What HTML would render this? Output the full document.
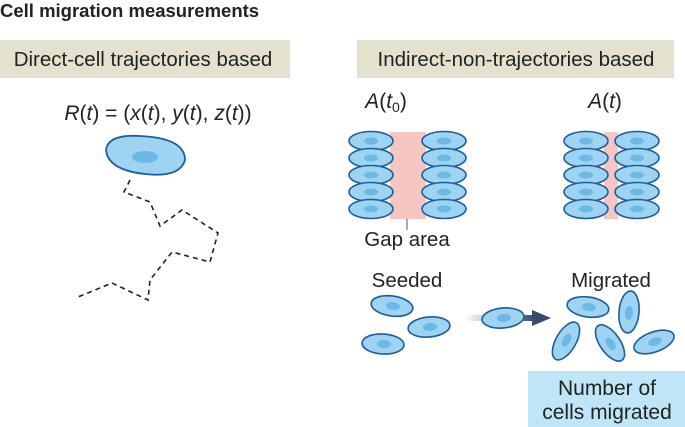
<!DOCTYPE html>
<html><head><style>body{margin:0;background:#fff}svg{display:block}text{font-family:"Liberation Sans",sans-serif;fill:#222}</style></head><body>
<svg width="685" height="427" viewBox="0 0 685 427" xmlns="http://www.w3.org/2000/svg">
<defs>
<g id="c"><ellipse cx="0" cy="0" rx="22" ry="9.5" fill="#9fd3f2" stroke="#1d5d9c" stroke-width="1.6"/><ellipse cx="0" cy="0" rx="7" ry="3.5" fill="#6cb8e6"/></g>
<g id="f"><ellipse cx="0" cy="0" rx="21" ry="10" fill="#9fd3f2" stroke="#1d5d9c" stroke-width="1.6"/><ellipse cx="1" cy="0" rx="7" ry="4" fill="#6cb8e6"/></g>
<linearGradient id="ar" x1="0" x2="1"><stop offset="0" stop-color="#3a4a6a" stop-opacity="0"/><stop offset="1" stop-color="#3a4a6a"/></linearGradient>
</defs>
<text x="0" y="17" font-size="18.5" font-weight="bold">Cell migration measurements</text>
<rect x="0" y="40" width="290" height="38" fill="#e4e2cf"/>
<text x="143" y="66" font-size="20.5" text-anchor="middle">Direct-cell trajectories based</text>
<rect x="357" y="40" width="317" height="38" fill="#e4e2cf"/>
<text x="516" y="66" font-size="20.5" text-anchor="middle">Indirect-non-trajectories based</text>
<text x="158" y="120" font-size="21" text-anchor="middle"><tspan font-style="italic">R</tspan>(<tspan font-style="italic">t</tspan>) = (<tspan font-style="italic">x</tspan>(<tspan font-style="italic">t</tspan>), <tspan font-style="italic">y</tspan>(<tspan font-style="italic">t</tspan>), <tspan font-style="italic">z</tspan>(<tspan font-style="italic">t</tspan>))</text>
<path d="M106,150 Q108,134 140,136 Q185,138 185,160 Q180,178 145,174 Q108,170 106,150Z" fill="#9fd3f2" stroke="#1d5d9c" stroke-width="1.8"/>
<ellipse cx="145" cy="157" rx="13" ry="6" fill="#6cb8e6"/>
<path d="M130,180 L124,192 L150,202 L160,226 L182,210 L218,233 L210,262 L172,252 L150,280 L148,300 L112,283 L78,297" fill="none" stroke="#222" stroke-width="1.6" stroke-dasharray="5,4"/>
<text x="386" y="108" font-size="21" text-anchor="middle"><tspan font-style="italic">A</tspan>(<tspan font-style="italic">t</tspan><tspan font-size="14" dy="4">0</tspan><tspan dy="-4">)</tspan></text>
<text x="605" y="108" font-size="21" text-anchor="middle"><tspan font-style="italic">A</tspan>(<tspan font-style="italic">t</tspan>)</text>
<rect x="390" y="132" width="36" height="87" fill="#f7c6c2"/>
<rect x="604" y="132" width="14" height="87" fill="#f7c6c2"/>
<g>
<use href="#c" x="371" y="141"/><use href="#c" x="371" y="158"/><use href="#c" x="371" y="175"/><use href="#c" x="371" y="192"/><use href="#c" x="371" y="209"/>
<use href="#c" x="444" y="141"/><use href="#c" x="444" y="158"/><use href="#c" x="444" y="175"/><use href="#c" x="444" y="192"/><use href="#c" x="444" y="209"/>
<use href="#c" x="586" y="141"/><use href="#c" x="586" y="158"/><use href="#c" x="586" y="175"/><use href="#c" x="586" y="192"/><use href="#c" x="586" y="209"/>
<use href="#c" x="637" y="141"/><use href="#c" x="637" y="158"/><use href="#c" x="637" y="175"/><use href="#c" x="637" y="192"/><use href="#c" x="637" y="209"/>
</g>
<line x1="407" y1="219" x2="407" y2="230" stroke="#555" stroke-width="1"/>
<text x="407" y="246" font-size="20.5" text-anchor="middle">Gap area</text>
<text x="407" y="287" font-size="20.5" text-anchor="middle">Seeded</text>
<text x="611" y="287" font-size="20.5" text-anchor="middle">Migrated</text>
<use href="#f" x="392" y="306" transform="rotate(8 392 306)"/>
<use href="#f" x="429" y="327" transform="rotate(-5 429 327)"/>
<use href="#f" x="383" y="344" transform="rotate(3 383 344)"/>
<rect x="465" y="315" width="70" height="6" fill="url(#ar)"/>
<path d="M532,310 L551,318 L532,326Z" fill="#3a4a6a"/>
<use href="#f" x="503" y="318" transform="rotate(-5 503 318)"/>
<use href="#f" x="588" y="307" transform="rotate(8 588 307)"/>
<use href="#f" x="629" y="312" transform="rotate(95 629 312)"/>
<use href="#f" x="566" y="341" transform="rotate(-60 566 341)"/>
<use href="#f" x="610" y="343" transform="rotate(55 610 343)"/>
<use href="#f" x="654" y="342" transform="rotate(-20 654 342)"/>
<rect x="528" y="371" width="157" height="56" fill="#bfe6f7"/>
<text x="607" y="395" font-size="21" text-anchor="middle">Number of</text>
<text x="607" y="419" font-size="21" text-anchor="middle">cells migrated</text>
</svg>
</body></html>
